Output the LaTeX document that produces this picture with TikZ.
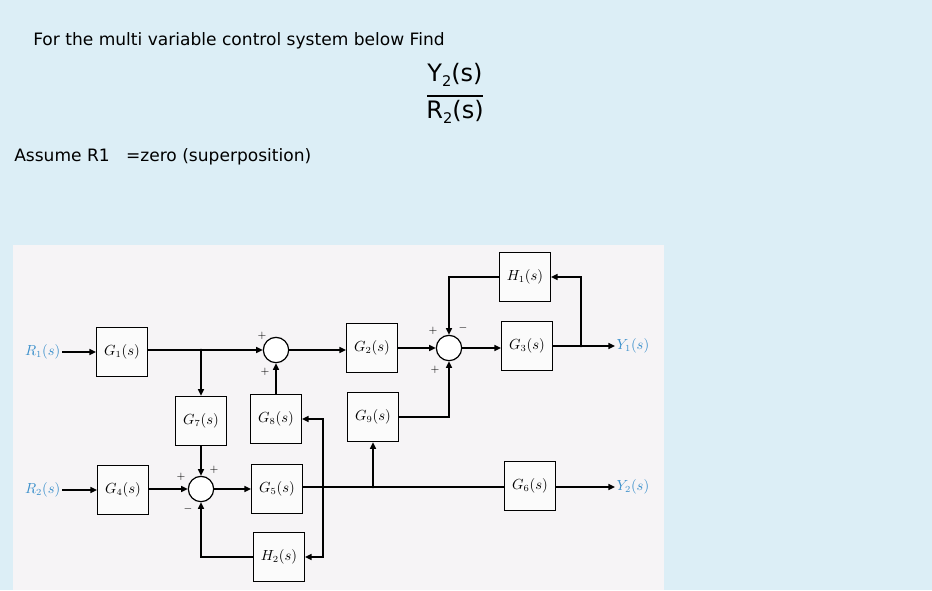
\documentclass[tikz,border=0pt]{standalone}
\usepackage{fontspec}
\newfontfamily\dv{DejaVu Sans}
\usetikzlibrary{arrows.meta}
\definecolor{bg}{HTML}{DCEEF6}
\definecolor{paper}{HTML}{F6F4F6}
\definecolor{lbl}{HTML}{3A8FCB}
\newcommand{\sbx}[1]{\raisebox{-0.35ex}{\fontsize{11}{12}\selectfont #1}}
\begin{document}
\begin{tikzpicture}[x=0.75pt,y=-0.75pt,
  blk/.style={draw,line width=0.9pt,fill=white!60!paper,minimum width=38pt,minimum height=37pt,inner sep=0pt,font=\fontsize{10.5}{12}\selectfont},
  sum/.style={draw,line width=0.9pt,circle,fill=white,minimum size=19pt,inner sep=0pt},
  ln/.style={line width=1.1pt},
  ar/.style={ln,-{Triangle[length=5pt,width=4.5pt]}},
  sg/.style={font=\footnotesize,inner sep=0pt},
  io/.style={text=lbl,font=\fontsize{10.5}{12}\selectfont,inner sep=1pt}]
\fill[bg] (0,0) rectangle (932,590);
\useasboundingbox (0,0) rectangle (932,590);
\fill[paper] (13,245) rectangle (664,590);
\node[anchor=west,font=\dv\fontsize{12.8}{15}\selectfont,inner sep=0pt] (t1) at (33,41) {For the multi variable control system below Find};
\node[font=\dv\fontsize{18}{20}\selectfont,inner sep=0pt] (num) at (455,75) {Y\sbx{2}(s)};
\node[font=\dv\fontsize{18}{20}\selectfont,inner sep=0pt] (den) at (455,112) {R\sbx{2}(s)};
\draw[line width=0.8pt] (num.south west |- 0,96) -- (num.south east |- 0,96);
\node[anchor=west,font=\dv\fontsize{12.8}{15}\selectfont,inner sep=0pt] (t2) at (14,157) {Assume R1\ \ \ =zero (superposition)};
% blocks
\node[blk] (G1) at (122,352) {$G_1(s)$};
\node[blk] (G7) at (201,421) {$G_7(s)$};
\node[blk] (G8) at (276,419) {$G_8(s)$};
\node[blk] (G4) at (123,490) {$G_4(s)$};
\node[blk] (G5) at (277,489) {$G_5(s)$};
\node[blk] (H2) at (279,557) {$H_2(s)$};
\node[blk] (G2) at (372,348) {$G_2(s)$};
\node[blk] (G3) at (527,346) {$G_3(s)$};
\node[blk] (H1) at (525,277) {$H_1(s)$};
\node[blk] (G9) at (373,417) {$G_9(s)$};
\node[blk] (G6) at (530,486) {$G_6(s)$};
\node[sum] (S1) at (276,350) {};
\node[sum] (S2) at (201,489) {};
\node[sum] (S3) at (449,348) {};
\node[io,anchor=east] (R1) at (62,352) {$R_1(s)$};
\node[io,anchor=east] (R2) at (62,490) {$R_2(s)$};
\node[io,anchor=west] (Y1) at (615,346) {$Y_1(s)$};
\node[io,anchor=west] (Y2) at (615,487) {$Y_2(s)$};
\coordinate (b1) at (201,350);
\coordinate (b2) at (323,487);
\coordinate (b3) at (373,487);
\coordinate (b4) at (581,346);
% connectors
\draw[ar] (R1) -- (G1.west |- R1);
\draw[ln] (G1.east |- b1) -- (b1);
\draw[ar] (b1) -- (S1.west);
\draw[ar] (b1) -- (G7.north);
\fill (b1) circle (1.3);
\draw[ar] (G7) -- (S2);
\draw[ar] (G8) -- (S1);
\draw[ar] (R2) -- (G4.west |- R2);
\draw[ar] (G4.east |- S2) -- (S2);
\draw[ar] (S2) -- (G5.west |- S2);
\draw[ln] (G5.east |- b2) -- (b2) -- (G6.west |- b2);
\draw[ar] (b2) |- (G8.east);
\draw[ar] (b2) |- (H2.east);
\fill (b2) circle (1.3);
\draw[ar] (H2.west) -| (S2.south);
\draw[ar] (b3) -- (G9.south);
\fill (b3) circle (1.3);
\draw[ar] (G6.east |- b2) -- (Y2.west);
\draw[ar] (S1) -- (G2.west |- S1);
\draw[ar] (G2) -- (S3);
\draw[ar] (G9.east) -| (S3.south);
\draw[ar] (S3) -- (G3.west |- S3);
\draw[ar] (G3.east |- b4) -- (Y1.west);
\draw[ar] (b4) |- (H1.east);
\fill (b4) circle (1.3);
\draw[ar] (H1.west) -| (S3.north);
% signs
\node[sg] (p1) at (262,336) {$+$};
\node[sg] (p2) at (265,372) {$+$};
\node[sg] (p3) at (181,477) {$+$};
\node[sg] (p4) at (214,470) {$+$};
\node[sg] (p5) at (188,509) {$-$};
\node[sg] (p6) at (433,331) {$+$};
\node[sg] (p7) at (463,328) {$-$};
\node[sg] (p8) at (435,370) {$+$};
\end{tikzpicture}
\end{document}
